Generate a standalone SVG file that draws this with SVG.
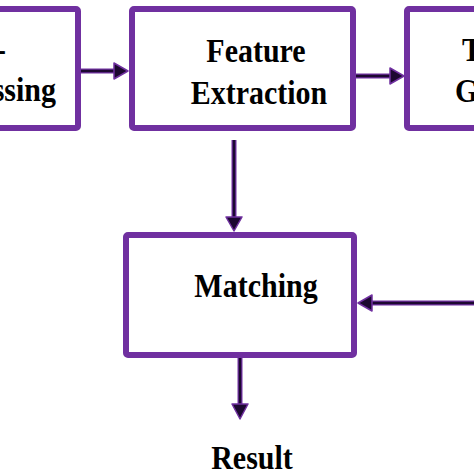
<svg xmlns="http://www.w3.org/2000/svg" width="474" height="474" viewBox="0 0 474 474">
<style>
.box{fill:#ffffff;stroke:#7030a0;stroke-width:6;stroke-linejoin:round}
.lbl{font-family:"Liberation Serif","Times New Roman",serif;font-weight:bold;font-size:30px;fill:#000}
.shaft{stroke:#7030a0;stroke-width:5;fill:none}
.core{stroke:#1c0830;stroke-width:2.5;fill:none}
.head{fill:#1c0830;stroke:#7030a0;stroke-width:1.5;stroke-linejoin:round}
</style>
<rect width="474" height="474" fill="#ffffff"/>
<g id="preprocessing">
<rect class="box" x="-60" y="9" width="138" height="119" rx="2"/>
<text class="lbl" transform="translate(6,61) scale(1,1.15)" text-anchor="end">Pre-</text>
<text class="lbl" transform="translate(56,101) scale(1,1.15)" text-anchor="end">processing</text>
</g>
<g id="feature-extraction">
<rect class="box" x="132" y="9" width="221" height="119" rx="2"/>
<text class="lbl" transform="translate(256,62) scale(1,1.15)" text-anchor="middle">Feature</text>
<text class="lbl" transform="translate(259,104) scale(1,1.15)" text-anchor="middle">Extraction</text>
</g>
<g id="template-generation">
<rect class="box" x="407" y="9" width="120" height="119" rx="2"/>
<text class="lbl" transform="translate(462,61) scale(1,1.15)">Template</text>
<text class="lbl" transform="translate(455,102) scale(1,1.15)">Generation</text>
</g>
<g id="matching">
<rect class="box" x="126" y="235" width="228" height="120" rx="2"/>
<text class="lbl" transform="translate(256,297) scale(1,1.15)" text-anchor="middle">Matching</text>
</g>
<g id="result">
<text class="lbl" transform="translate(252,469) scale(1,1.15)" text-anchor="middle">Result</text>
</g>
<g id="connectors">
<line class="shaft" x1="81" y1="71" x2="116" y2="71"/>
<line class="core" x1="81" y1="71" x2="116" y2="71"/>
<polygon class="head" points="114,63 128,71 114,79"/>
<line class="shaft" x1="356" y1="76" x2="392" y2="76"/>
<line class="core" x1="356" y1="76" x2="392" y2="76"/>
<polygon class="head" points="390,68 404,76 390,84"/>
<line class="shaft" x1="234" y1="140" x2="234" y2="218"/>
<line class="core" x1="234" y1="140" x2="234" y2="218"/>
<polygon class="head" points="226,217 234,231 242,217"/>
<line class="shaft" x1="474" y1="303" x2="370" y2="303"/>
<line class="core" x1="474" y1="303" x2="370" y2="303"/>
<polygon class="head" points="372,295 358,303 372,311"/>
<line class="shaft" x1="240" y1="358" x2="240" y2="405"/>
<line class="core" x1="240" y1="358" x2="240" y2="405"/>
<polygon class="head" points="232,404 240,419 248,404"/>
</g>
</svg>
